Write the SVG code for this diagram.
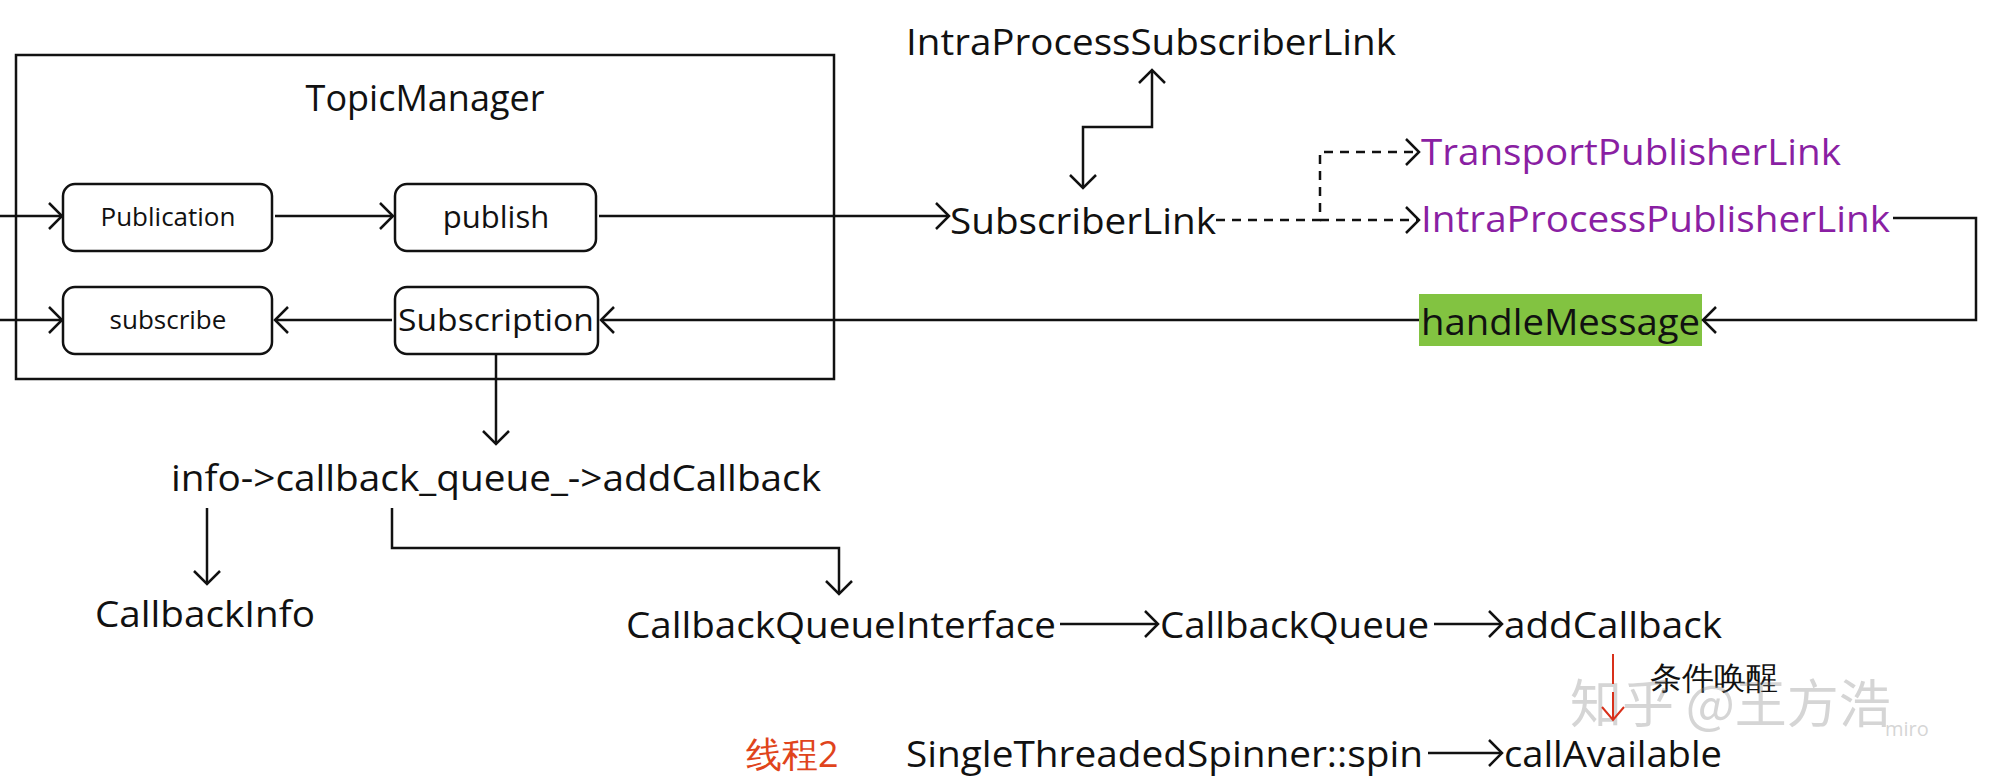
<svg xmlns="http://www.w3.org/2000/svg" width="1990" height="784" viewBox="0 0 1990 784">
<style>
.t{font-family:"Open Sans","Noto Sans",sans-serif;fill:#111;dominant-baseline:central}
.box{fill:#fff;stroke:#111;stroke-width:2.5}
.c{fill:none;stroke:#111;stroke-width:2.5}
.d{stroke-dasharray:9 7}
.p{fill:#8a1fa3}
</style>
<defs>
<marker id="a" markerUnits="userSpaceOnUse" markerWidth="16" markerHeight="28" refX="14" refY="14" orient="auto"><path d="M1,1 L14,14 L1,27" fill="none" stroke="#111" stroke-width="2.5"/></marker>
<marker id="ar" markerUnits="userSpaceOnUse" markerWidth="16" markerHeight="24" refX="14" refY="12" orient="auto"><path d="M1,1 L14,12 L1,23" fill="none" stroke="#d8301a" stroke-width="2"/></marker>
<marker id="as" markerUnits="userSpaceOnUse" markerWidth="16" markerHeight="28" refX="2" refY="14" orient="auto"><path d="M15,1 L2,14 L15,27" fill="none" stroke="#111" stroke-width="2.5"/></marker>
</defs>
<rect width="1990" height="784" fill="#fff"/>
<g id="topicmanager"><rect x="16" y="55" width="818" height="324" fill="none" stroke="#111" stroke-width="2.5"/><text class="t" x="425" y="97" font-size="36" text-anchor="middle">TopicManager</text></g>
<g id="publication"><rect class="box" x="63" y="184" width="209" height="67" rx="12"/><text class="t" x="168" y="216" font-size="26" text-anchor="middle">Publication</text></g>
<g id="publish"><rect class="box" x="395" y="184" width="201" height="67" rx="12"/><text class="t" x="496" y="216" font-size="31" text-anchor="middle">publish</text></g>
<g id="subscribe"><rect class="box" x="63" y="287" width="209" height="67" rx="12"/><text class="t" x="168" y="319" font-size="26" text-anchor="middle">subscribe</text></g>
<g id="subscription"><rect class="box" x="395" y="287" width="203" height="67" rx="12"/><text class="t" x="496" y="319" font-size="31" text-anchor="middle" textLength="196" lengthAdjust="spacingAndGlyphs">Subscription</text></g>
<g id="intraSubLink"><text class="t" x="906" y="41" font-size="36" textLength="490" lengthAdjust="spacingAndGlyphs">IntraProcessSubscriberLink</text></g>
<g id="subscriberLink"><text class="t" x="950" y="220" font-size="36" textLength="266" lengthAdjust="spacingAndGlyphs">SubscriberLink</text></g>
<g id="transportPubLink"><text class="t p" x="1421" y="151" font-size="36" textLength="420" lengthAdjust="spacingAndGlyphs">TransportPublisherLink</text></g>
<g id="intraPubLink"><text class="t p" x="1421" y="218" font-size="36" textLength="469" lengthAdjust="spacingAndGlyphs">IntraProcessPublisherLink</text></g>
<g id="handleMessage"><rect x="1419" y="294" width="283" height="52" fill="#82c341"/><text class="t" x="1421" y="321" font-size="36" textLength="279" lengthAdjust="spacingAndGlyphs">handleMessage</text></g>
<g id="addCallbackInfo"><text class="t" x="171" y="477" font-size="36" textLength="650" lengthAdjust="spacingAndGlyphs">info-&gt;callback_queue_-&gt;addCallback</text></g>
<g id="callbackInfo"><text class="t" x="95" y="613" font-size="36" textLength="220" lengthAdjust="spacingAndGlyphs">CallbackInfo</text></g>
<g id="cbQueueInterface"><text class="t" x="626" y="624" font-size="36" textLength="430" lengthAdjust="spacingAndGlyphs">CallbackQueueInterface</text></g>
<g id="cbQueue"><text class="t" x="1160" y="624" font-size="36" textLength="269" lengthAdjust="spacingAndGlyphs">CallbackQueue</text></g>
<g id="addCallback"><text class="t" x="1504" y="624" font-size="36" textLength="218" lengthAdjust="spacingAndGlyphs">addCallback</text></g>
<g id="wake"><text class="t" x="1650" y="676" font-size="32" font-family="Noto Sans CJK SC,sans-serif">条件唤醒</text></g>
<g id="thread2"><text class="t" x="746" y="753" font-size="36" fill="#e0441c" style="fill:#e0441c" font-family="Noto Sans CJK SC,sans-serif">线程2</text></g>
<g id="spin"><text class="t" x="906" y="753" font-size="36" textLength="517" lengthAdjust="spacingAndGlyphs">SingleThreadedSpinner::spin</text></g>
<g id="callAvailable"><text class="t" x="1504" y="753" font-size="36" textLength="218" lengthAdjust="spacingAndGlyphs">callAvailable</text></g>
<g id="watermark" opacity="0.35"><text x="1570" y="700" font-size="52" fill="#888" font-family="Noto Sans CJK SC,sans-serif" dominant-baseline="central">知乎 @王方浩</text><text x="1885" y="728" font-size="20" fill="#888" font-family="Open Sans,sans-serif" dominant-baseline="central">miro</text></g>
<g id="connectors">
<path class="c" d="M0,216 H62" marker-end="url(#a)"/>
<path class="c" d="M0,320 H62" marker-end="url(#a)"/>
<path class="c" d="M275,216 H393" marker-end="url(#a)"/>
<path class="c" d="M599,216 H949" marker-end="url(#a)"/>
<path class="c" d="M1083,188 V127 H1152 V70" marker-start="url(#as)" marker-end="url(#a)"/>
<path class="c d" d="M1216,220 H1320 V152 H1419" marker-end="url(#a)"/>
<path class="c d" d="M1320,220 H1419" marker-end="url(#a)"/>
<path class="c" d="M1893,218 H1976 V320 H1703" marker-end="url(#a)"/>
<path class="c" d="M1419,320 H601" marker-end="url(#a)"/>
<path class="c" d="M392,320 H275" marker-end="url(#a)"/>
<path class="c" d="M496,354 V444" marker-end="url(#a)"/>
<path class="c" d="M207,508 V584" marker-end="url(#a)"/>
<path class="c" d="M392,508 V548 H839 V594" marker-end="url(#a)"/>
<path class="c" d="M1060,624 H1158" marker-end="url(#a)"/>
<path class="c" d="M1434,624 H1502" marker-end="url(#a)"/>
<path class="c" d="M1428,753 H1502" marker-end="url(#a)"/>
<path d="M1613,654 V720" fill="none" stroke="#d8301a" stroke-width="2" stroke-dasharray="30 8" marker-end="url(#ar)"/>
</g>
</svg>
